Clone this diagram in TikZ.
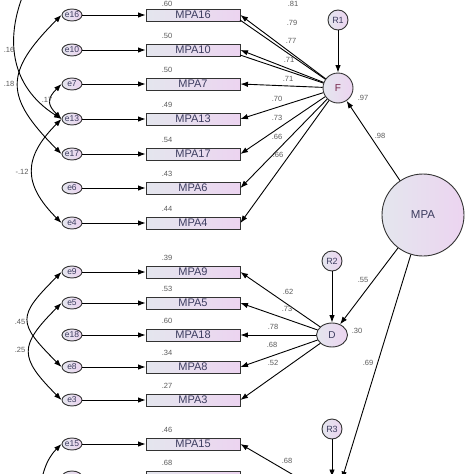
\documentclass[tikz,border=0pt]{standalone}
\usepackage{fontspec}
\setmainfont{Liberation Sans}
\usetikzlibrary{arrows.meta,shapes.geometric}
\definecolor{amosblue}{RGB}{228,230,238}
\definecolor{amospink}{RGB}{236,212,240}
\definecolor{amostext}{RGB}{60,60,95}
\definecolor{amosgray}{RGB}{90,90,90}
\definecolor{amosred}{RGB}{115,35,70}

\begin{document}
\begin{tikzpicture}[x=1pt,y=1pt,>={Latex[length=7.5pt,width=5.5pt]},line width=.9pt,
	shade/.style={draw=black!80,left color=amosblue,right color=amospink,text=amostext,inner sep=0pt},
	obs/.style={shade,minimum width=94pt,minimum height=12pt,font=\fontsize{11}{11}\selectfont},
	err/.style={shade,ellipse,minimum width=20pt,minimum height=12pt,font=\fontsize{8.5}{9}\selectfont},
	res/.style={shade,circle,minimum size=20pt,font=\fontsize{9}{9}\selectfont},
	lat/.style={shade,ellipse,font=\fontsize{10}{10}\selectfont},
	coef/.style={text=amosgray,font=\fontsize{7.5}{7.5}\selectfont,inner sep=0pt}]

	\useasboundingbox (0,0) rectangle (474,-474);
	\clip (0,0) rectangle (474,-474);

	% indicators with their errors
	\foreach \n/\y/\sq in {16/15/.60,10/50/.50,7/84/.50,13/119/.49,17/154/.54,6/188/.43,4/223/.44,
		9/272/.39,5/303/.53,18/335/.60,8/367/.34,3/400/.27,15/444/.46}{
		\node[err] (e\n) at (72,-\y) {e\n};
		\node[obs] (mpa\n) at (193,-\y) {MPA\n};
		\node[coef] at (167,{min(-\y+14,-4)}) {\sq};
		\draw[->] (e\n) -- (mpa\n);
	}
	\node[err] (ex) at (72,-477) {};
	\node[obs] (mpax) at (193,-477) {};
	\node[coef] at (167,-463) {.68};
	\draw[->] (ex) -- (mpax);

	% factors
	\node[lat,minimum size=30pt] (F) at (338,-88) {\textcolor{amosred}{F}};
	\node[res] (R1) at (338,-20) {R1};
	\node[lat,minimum width=31pt,minimum height=24pt] (D) at (332,-335) {D};
	\node[res] (R2) at (332,-261) {R2};
	\node[res] (R3) at (332,-429) {R3};
	\node[lat,minimum size=82pt,font=\fontsize{11.5}{11.5}\selectfont] (MPA) at (423,-215) {MPA};

	\coordinate (mpaA) at (240,-20);
	\coordinate (mpaB) at (240,-55);
	\coordinate (eB) at (26,12);
	\coordinate (Gtop) at (332,-477);
	\coordinate (Gin) at (342,-479);
	\coordinate (Gout) at (302,-480);
	\coordinate (sA) at (38,-498);
	\coordinate (sB) at (30,-500);

	\foreach \n in {16,10,7,13,17,6,4} \draw[->] (F) -- (mpa\n.east);
	\draw (F) -- (mpaA);
	\draw (F) -- (mpaB);
	\foreach \n in {9,5,18,8,3} \draw[->] (D) -- (mpa\n.east);
	\draw[->] (R1) -- (F);
	\draw[->] (R2) -- (D);
	\draw[->] (R3) -- (Gtop);
	\draw[->] (MPA) -- (F);
	\draw[->] (MPA) -- (D);
	\draw[->] (MPA) -- (Gin);
	\draw[->] (Gout) -- (mpa15.east);

	% covariances
	\draw[<->] (e16.west) to[out=225,in=135,looseness=1.5] (e17.west);
	\draw[->] (eB) .. controls (5,-35) and (8,-85) .. (e13.west);
	\draw[<->] (e7.west) to[out=225,in=135,looseness=1.5] (e13.west);
	\draw[<->] (e13.west) to[out=225,in=135,looseness=1.35] (e4.west);
	\draw[<->] (e9.west) to[out=225,in=135,looseness=1.7] (e8.west);
	\draw[<->] (e5.west) to[out=225,in=135,looseness=1.6] (e3.west);
	\draw[->] (sA) to[out=80,in=225] (e15.west);
	\draw[->] (sB) to[out=60,in=180] (ex.west);

	% estimates
	\foreach \x/\y/\v in {293/4/.81,292/23/.79,291/41/.77,289/60/.71,288/79/.71,277/99/.70,
		277/118/.73,277/137/.66,278/155/.66,363/98/.97,380/136/.98,
		288/292/.62,287/309/.73,273/327/.78,272/345/.68,273/363/.52,
		357/331/.30,363/280/.55,368/363/.69,287/461/.68,
		9/50/.16,9/84/.18,47/100/.17,22/172/-.12,20/322/.45,20/350/.25}
		\node[coef] at (\x,-\y) {\v};
\end{tikzpicture}
\end{document}
